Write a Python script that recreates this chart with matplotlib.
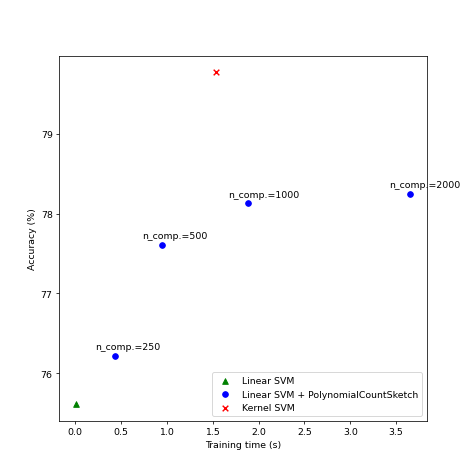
import matplotlib
matplotlib.use("Agg")
import matplotlib.pyplot as plt

# values
linear_time = [0.01]
linear_acc = [75.61]

n_components = [250, 500, 1000, 2000]
psk_time = [0.44, 0.95, 1.89, 3.65]
psk_acc = [76.22, 77.61, 78.13, 78.25]

kernel_time = [1.54]
kernel_acc = [79.77]

fig, ax = plt.subplots(figsize=(7, 7))

ax.scatter(linear_time, linear_acc, label="Linear SVM", c="green", marker="^")
ax.scatter(psk_time, psk_acc, label="Linear SVM + PolynomialCountSketch", c="blue")
for n, t, a in zip(n_components, psk_time, psk_acc):
    ax.annotate(f"n_comp.={n}", (t, a), xytext=(-21.6, 7.2),
                textcoords="offset points")
ax.scatter(kernel_time, kernel_acc, label="Kernel SVM", c="red", marker="x")

ax.set_xlabel("Training time (s)")
ax.set_ylabel("Accuracy (%)")
ax.legend(loc="lower right")

plt.savefig("out.png", dpi=474 / 7)
